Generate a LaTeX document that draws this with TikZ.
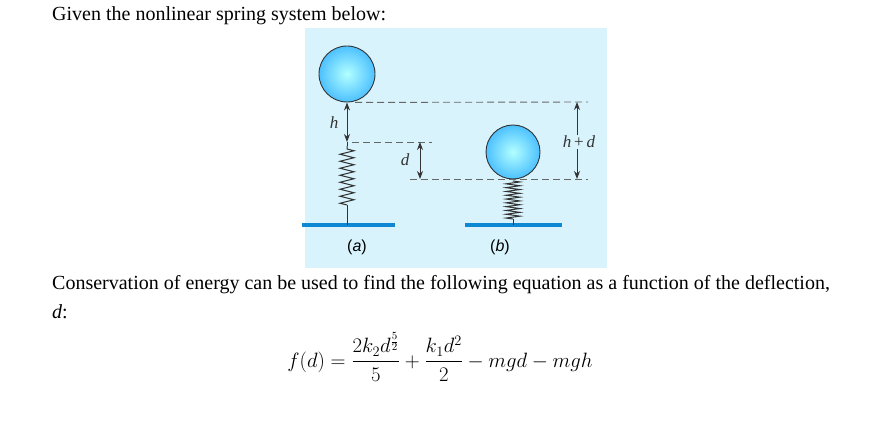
\documentclass[tikz,border=0pt]{standalone}
\usepackage{amsmath}
\usepackage{fontspec}
\setmainfont{Liberation Serif}
\setsansfont{Liberation Sans}
\usetikzlibrary{decorations.pathmorphing,arrows.meta}
\begin{document}
\begin{tikzpicture}[x=1pt,y=-1pt,
  txt/.style={anchor=west,inner sep=0pt,font=\fontsize{20}{24}\selectfont},
  ball/.style={circle,draw=black!80,line width=0.9pt,inner color=cyan!30,outer color=cyan!65!blue!70,minimum size=56pt,inner sep=0pt},
  dashln/.style={draw=black!60,line width=0.9pt,dash pattern=on 7pt off 4pt},
  meas/.style={draw=black!80,line width=0.9pt,arrows={Stealth[length=8pt,width=6pt]-Stealth[length=8pt,width=6pt]}},
  ground/.style={draw=cyan!70!blue,line width=3.5pt},
  spr/.style={draw=black!80,line width=1pt,decoration={zigzag,segment length=7pt,amplitude=7pt},decorate},
  lab/.style={font=\itshape\fontsize{17}{19}\selectfont,inner sep=1pt,text=black!80},
  captxt/.style={font=\sffamily\fontsize{16}{18}\selectfont}]
\useasboundingbox (0,0) rectangle (876,443);
\fill[white] (0,0) rectangle (876,443);
\node[txt] (t1) at (52,16) {Given the nonlinear spring system below:};
\fill[cyan!15] (305,28) rectangle (607,268);
% panel a
\coordinate (ga1) at (302,225); \coordinate (ga2) at (395,225);
\draw[ground] (ga1) -- (ga2);
\coordinate (sa0) at (347,225); \coordinate (sa1) at (347,205); \coordinate (sa2) at (347,146); \coordinate (sa3) at (347,142);
\draw[black!80,line width=1pt] (sa0) -- (sa1) (sa2) -- (sa3);
\draw[spr] (sa1) -- (sa2);
\node[ball] (ba) at (347,74) {};
\coordinate (hb) at (347,142);
\draw[meas] (ba.south) -- (hb);
\node[lab] (lh) at (334,123) {h};
% panel b
\draw[ground] (465,225) -- (562,225);
\coordinate (sb0) at (513,225); \coordinate (sb1) at (513,219); \coordinate (sb2) at (513,181);
\draw[black!80,line width=1pt] (sb0) -- (sb1);
\draw[spr,decoration={zigzag,segment length=3.8pt,amplitude=7pt}] (sb1) -- (sb2);
\node[ball,minimum size=54pt] (bb) at (513,152) {};
% dashed lines
\coordinate (d1e) at (588,102); \coordinate (d2s) at (352,142); \coordinate (d2e) at (432,142);
\coordinate (d3s) at (410,179); \coordinate (d3e) at (588,179);
\draw[dashln] ([xshift=8pt]ba.south) -- (d1e);
\draw[dashln] (d2s) -- (d2e);
\draw[dashln] (d3s) -- (d3e);
\coordinate (da) at (420,142); \coordinate (db) at (420,179);
\draw[meas] (da) -- (db);
\node[lab] (ld) at (405,160) {d};
\coordinate (ha) at (577,102); \coordinate (hdb) at (577,179);
\draw[meas] (ha) -- (hdb);
\node[lab,fill=cyan!15] (lhd) at (579,142) {h\,\upshape+\,\itshape d};
\node[captxt] (la) at (357,247) {(\textit{a})};
\node[captxt] (lb) at (500,247) {(\textit{b})};
\node[txt] (t2) at (52,285) {Conservation of energy can be used to find the following equation as a function of the deflection,};
\node[txt] (t3) at (52,312) {\textit{d}:};
\node[inner sep=0pt,font=\fontsize{21}{25}\selectfont] (eq) at (440,357) {$f(d)=\dfrac{2k_2d^{\frac{5}{2}}}{5}+\dfrac{k_1d^2}{2}-mgd-mgh$};
\end{tikzpicture}
\end{document}
